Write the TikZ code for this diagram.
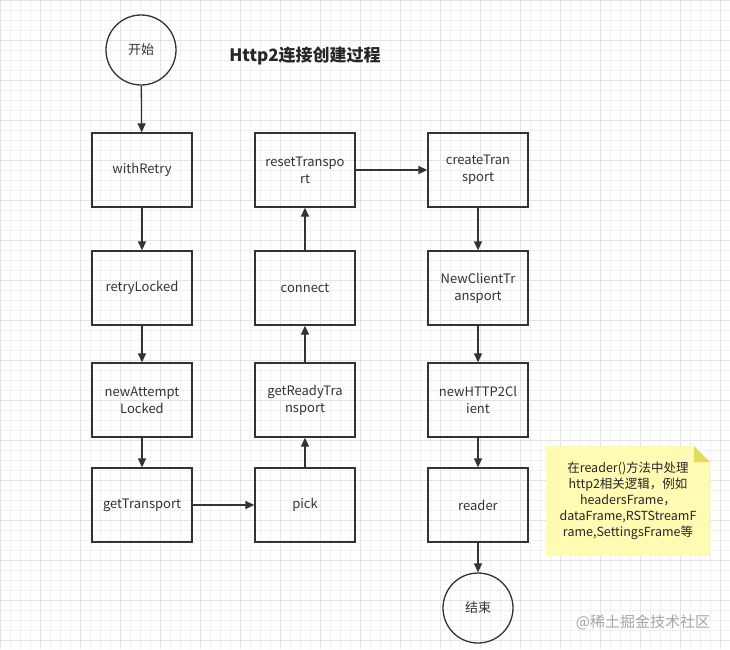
\documentclass[tikz,border=0pt]{standalone}
\usepackage{fontspec}
\setmainfont{Noto Sans CJK SC}
\usetikzlibrary{arrows.meta}
\tikzset{
    proc/.style={rectangle,draw=black!80,line width=1.3pt,minimum width=100pt,minimum height=74pt,align=center,font=\fontsize{13}{17}\selectfont,text=black!80},
    term/.style={circle,draw=black!80,line width=1.3pt,minimum size=70pt,font=\fontsize{13}{17}\selectfont,text=black!80},
    flow/.style={-{Triangle[length=9pt,width=8pt]},line width=1.3pt,draw=black!80}
}
\begin{document}
\begin{tikzpicture}[x=1pt,y=-1pt]
\useasboundingbox (0,0) rectangle (730,649);
\fill[white] (0,0) rectangle (730,649);
\draw[black!6,line width=0.5pt] (0,0) grid[step=10pt] (730,649);
\draw[black!11,line width=0.6pt] (0,0) grid[step=40pt] (730,649);

\node[term] (start) at (141,50) {开始};
\node[font=\bfseries\fontsize{17}{20}\selectfont,text=black!85] (title) at (305,56) {Http2连接创建过程};

\node[proc] (with) at (142,170) {withRetry};
\node[proc] (retry) at (142,288) {retryLocked};
\node[proc] (attempt) at (142,400) {newAttempt\\Locked};
\node[proc] (gett) at (142,505) {getTransport};
\node[proc] (pick) at (305,505) {pick};
\node[proc] (ready) at (305,400) {getReadyTra\\nsport};
\node[proc] (conn) at (305,288) {connect};
\node[proc] (reset) at (305,170) {resetTranspo\\rt};
\node[proc] (create) at (478,170) {createTran\\sport};
\node[proc] (client) at (478,288) {NewClientTr\\ansport};
\node[proc] (http2) at (478,400) {newHTTP2Cl\\ient};
\node[proc] (reader) at (478,505) {reader};
\node[term] (end) at (478,608) {结束};

\draw[flow] (start) -- (with);
\draw[flow] (with) -- (retry);
\draw[flow] (retry) -- (attempt);
\draw[flow] (attempt) -- (gett);
\draw[flow] (gett) -- (pick);
\draw[flow] (pick) -- (ready);
\draw[flow] (ready) -- (conn);
\draw[flow] (conn) -- (reset);
\draw[flow] (reset) -- (create);
\draw[flow] (create) -- (client);
\draw[flow] (client) -- (http2);
\draw[flow] (http2) -- (reader);
\draw[flow] (reader) -- (end);

% note
\fill[yellow!30!white,draw=none] (546,446) -- (694,446) -- (710,462) -- (710,556) -- (546,556) -- cycle;
\fill[olive!45!yellow!60!white] (694,446) -- (710,462) -- (694,462) -- cycle;
\node[align=center,font=\fontsize{12.5}{16}\selectfont,text=black!85] (note) at (628,501) {在reader()方法中处理\\http2相关逻辑，例如\\headersFrame，\\dataFrame,RSTStreamF\\rame,SettingsFrame等};

\node[font=\fontsize{15}{17}\selectfont,text=black!35] (mark) at (643,622) {@稀土掘金技术社区};
\end{tikzpicture}
\end{document}
